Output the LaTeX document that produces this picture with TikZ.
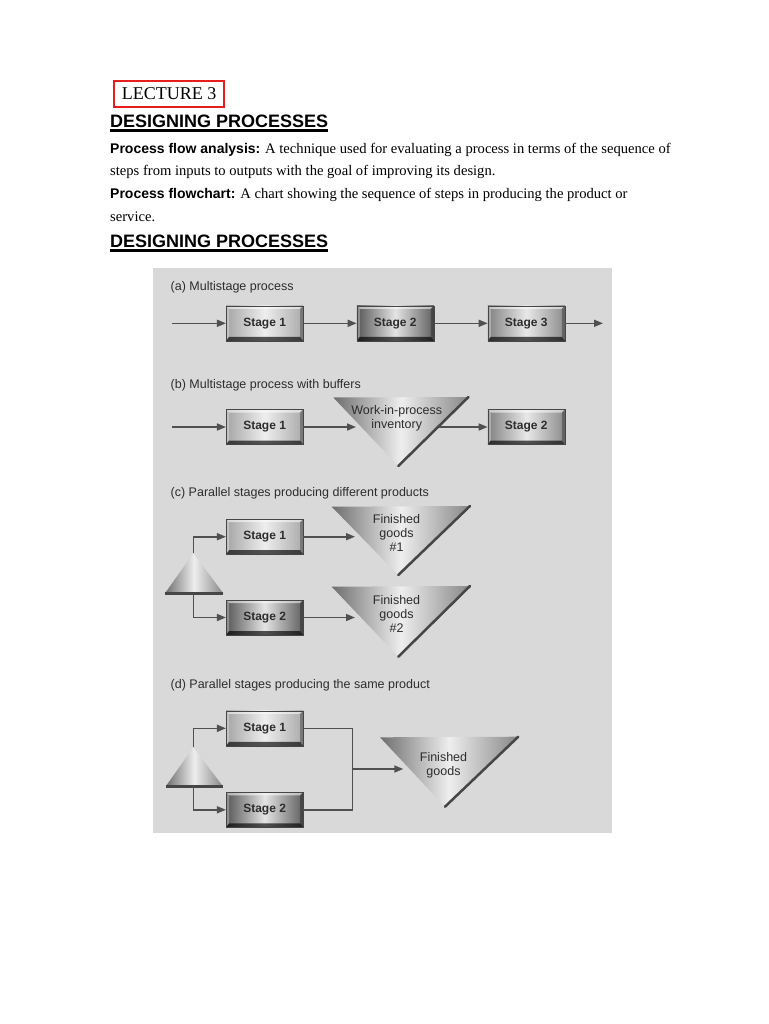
\documentclass[tikz,border=0pt]{standalone}
\usepackage{fontspec}
\setmainfont{Liberation Serif}
\setsansfont{Liberation Sans}
\usetikzlibrary{arrows.meta,calc}
\definecolor{panel}{RGB}{217,217,217}
\definecolor{linecol}{RGB}{80,80,80}
\definecolor{ptext}{RGB}{45,45,45}
\definecolor{redbox}{RGB}{232,30,30}
\definecolor{edgedark}{RGB}{70,70,70}
\newcommand\fsz[2]{\fontsize{#1}{#2}\selectfont}
\begin{document}
\begin{tikzpicture}[x=1pt,y=-1pt,
  stagebox/.style={minimum width=77pt, minimum height=35pt, inner sep=0pt,
    font=\sffamily\bfseries\fsz{12}{14}, text=ptext, draw=gray!55!black, line width=0.3pt,
    path picture={
      \fill[white,opacity=0.55] (path picture bounding box.north west) -- (path picture bounding box.north east) -- ([shift={(-3pt,-3pt)}]path picture bounding box.north east) -- ([shift={(3pt,-3pt)}]path picture bounding box.north west) -- cycle;
      \fill[white,opacity=0.3] (path picture bounding box.north west) -- (path picture bounding box.south west) -- ([shift={(3pt,4pt)}]path picture bounding box.south west) -- ([shift={(3pt,-3pt)}]path picture bounding box.north west) -- cycle;
      \fill[black,opacity=0.3] (path picture bounding box.north east) -- (path picture bounding box.south east) -- ([shift={(-3pt,4pt)}]path picture bounding box.south east) -- ([shift={(-3pt,-3pt)}]path picture bounding box.north east) -- cycle;
      \fill[black,opacity=0.65] (path picture bounding box.south west) -- (path picture bounding box.south east) -- ([shift={(-3pt,4pt)}]path picture bounding box.south east) -- ([shift={(3pt,4pt)}]path picture bounding box.south west) -- cycle;
    }},
  stlight/.style={stagebox, left color={rgb,255:red,165;green,165;blue,165}, right color={rgb,255:red,170;green,170;blue,170}, middle color={rgb,255:red,238;green,238;blue,238}},
  stmid/.style={stagebox, left color={rgb,255:red,130;green,130;blue,130}, right color={rgb,255:red,140;green,140;blue,140}, middle color={rgb,255:red,232;green,232;blue,232}},
  stdark/.style={stagebox, left color={rgb,255:red,88;green,88;blue,88}, right color={rgb,255:red,95;green,95;blue,95}, middle color={rgb,255:red,228;green,228;blue,228}},
  tri/.style={left color={rgb,255:red,110;green,110;blue,110}, right color={rgb,255:red,135;green,135;blue,135}, middle color={rgb,255:red,238;green,238;blue,238}},
  triedge/.style={draw=edgedark, line width=2.5pt, line cap=round},
  tritext/.style={align=center, inner sep=0pt, font=\sffamily\fsz{12.5}{14}, text=ptext},
  plabel/.style={anchor=base west, inner sep=0pt, font=\sffamily\fsz{12.5}{14}, text=ptext},
  lineonly/.style={draw=linecol, line width=1.6pt},
  conn/.style={lineonly, -{Triangle[length=9pt,width=7pt]}},
  body/.style={anchor=base west, inner sep=0pt, font=\fsz{14.6}{17}},
  heading/.style={anchor=base west, inner sep=0pt, font=\sffamily\bfseries\fsz{18}{20}}
]
\useasboundingbox (0,0) rectangle (768,1024);
\fill[white] (0,0) rectangle (768,1024);

% header
\node[draw=redbox, line width=1.1pt, minimum width=110pt, minimum height=26pt, inner sep=0pt, font=\fsz{18}{20}] (lect) at (169,94) {LECTURE 3};
\node[heading] (h1) at (110,127.5) {DESIGNING PROCESSES};
\fill ([yshift=-2pt]h1.base west) rectangle ([yshift=-5pt]h1.base east);
\node[body] (l1) at (110,153.3) {{\sffamily\bfseries\fsz{14}{16}Process flow analysis:} A technique used for evaluating a process in terms of the sequence of};
\node[body] (l2) at (110,175.8) {steps from inputs to outputs with the goal of improving its design.};
\node[body] (l3) at (110,198.5) {{\sffamily\bfseries\fsz{14}{16}Process flowchart:} A chart showing the sequence of steps in producing the product or};
\node[body] (l4) at (110,221.7) {service.};
\node[heading] (h2) at (110,247.3) {DESIGNING PROCESSES};
\fill ([yshift=-2pt]h2.base west) rectangle ([yshift=-5pt]h2.base east);

% panel
\fill[panel] (153.3,268.3) rectangle (611.7,833.3);

% (a)
\node[plabel] (la) at (170.5,290.7) {(a) Multistage process};
\node[stlight] (a1) at (264.6,323.3) {Stage 1};
\node[stdark] (a2) at (395.3,323.3) {Stage 2};
\node[stmid] (a3) at (526.3,323.3) {Stage 3};
\coordinate (ain) at (172,323.3);
\coordinate (aout) at (603,323.3);
\draw[conn] (ain) -- (a1.west);
\draw[conn] (a1.east) -- (a2.west);
\draw[conn] (a2.east) -- (a3.west);
\draw[conn] (a3.east) -- (aout);

% (b)
\node[plabel] (lb) at (170.5,388.3) {(b) Multistage process with buffers};
\coordinate (btl) at (333.3,397.5);
\coordinate (btr) at (468.5,397);
\coordinate (bap) at (398.3,466);
\shade[tri] (btl) -- (btr) -- (bap) -- cycle;
\draw[triedge] (btr) -- (bap);
\node[tritext, anchor=base] (btxt) at (396.7,428.5) {Work-in-process\\inventory};
\node[stlight] (b1) at (264.6,427) {Stage 1};
\node[stmid] (b2) at (526.3,427) {Stage 2};
\coordinate (bin) at (172,427);
\coordinate (btin) at (356,427);
\coordinate (btout) at (438.5,427);
\draw[conn] (bin) -- (b1.west);
\draw[conn] (b1.east) -- (btin);
\draw[conn] (btout) -- (b2.west);

% (c)
\node[plabel] (lc) at (170.5,496.7) {(c) Parallel stages producing different products};
\coordinate (c1tl) at (331.7,506.7);
\coordinate (c1tr) at (470,506);
\coordinate (c1ap) at (398.3,575);
\shade[tri] (c1tl) -- (c1tr) -- (c1ap) -- cycle;
\draw[triedge] (c1tr) -- (c1ap);
\node[tritext, anchor=base] (c1txt) at (396.5,551) {Finished\\goods\\\#1};
\coordinate (c2tl) at (331.7,586.7);
\coordinate (c2tr) at (470,586);
\coordinate (c2ap) at (398.3,656.7);
\shade[tri] (c2tl) -- (c2tr) -- (c2ap) -- cycle;
\draw[triedge] (c2tr) -- (c2ap);
\node[tritext, anchor=base] (c2txt) at (396.5,632.5) {Finished\\goods\\\#2};
\coordinate (cap) at (193.3,553.3);
\coordinate (cbl) at (165,593.3);
\coordinate (cbr) at (223.3,593.3);
\coordinate (cbm) at (193.3,593.3);
\shade[tri] (cap) -- (cbr) -- (cbl) -- cycle;
\draw[draw=edgedark, line width=3pt] (cbl) -- (cbr);
\node[stlight] (c1) at (264.6,536.7) {Stage 1};
\node[stdark] (c2) at (264.6,617.5) {Stage 2};
\draw[conn] (cap) |- (c1.west);
\draw[conn] (cbm) |- (c2.west);
\coordinate (c1in) at (355,536.7);
\coordinate (c2in) at (355,617.5);
\draw[conn] (c1.east) -- (c1in);
\draw[conn] (c2.east) -- (c2in);

% (d)
\node[plabel] (ld) at (170.5,688.3) {(d) Parallel stages producing the same product};
\coordinate (dtl) at (380,737.3);
\coordinate (dtr) at (518.3,736.7);
\coordinate (dap) at (445,806.7);
\shade[tri] (dtl) -- (dtr) -- (dap) -- cycle;
\draw[triedge] (dtr) -- (dap);
\node[tritext, anchor=base] (dtxt) at (443.5,775) {Finished\\goods};
\coordinate (dap2) at (193.3,747.3);
\coordinate (dbl) at (166,786);
\coordinate (dbr) at (222.7,786);
\coordinate (dbm) at (193.3,786);
\shade[tri] (dap2) -- (dbr) -- (dbl) -- cycle;
\draw[draw=edgedark, line width=3pt] (dbl) -- (dbr);
\node[stlight] (d1) at (264.6,728.3) {Stage 1};
\node[stdark] (d2) at (264.6,809.8) {Stage 2};
\draw[conn] (dap2) |- (d1.west);
\draw[conn] (dbm) |- (d2.west);
\coordinate (dj) at (352.3,769);
\coordinate (din) at (403.3,769);
\draw[lineonly] (d1.east) -| (dj);
\draw[lineonly] (d2.east) -| (dj);
\draw[conn] (dj) -- (din);
\end{tikzpicture}
\end{document}
